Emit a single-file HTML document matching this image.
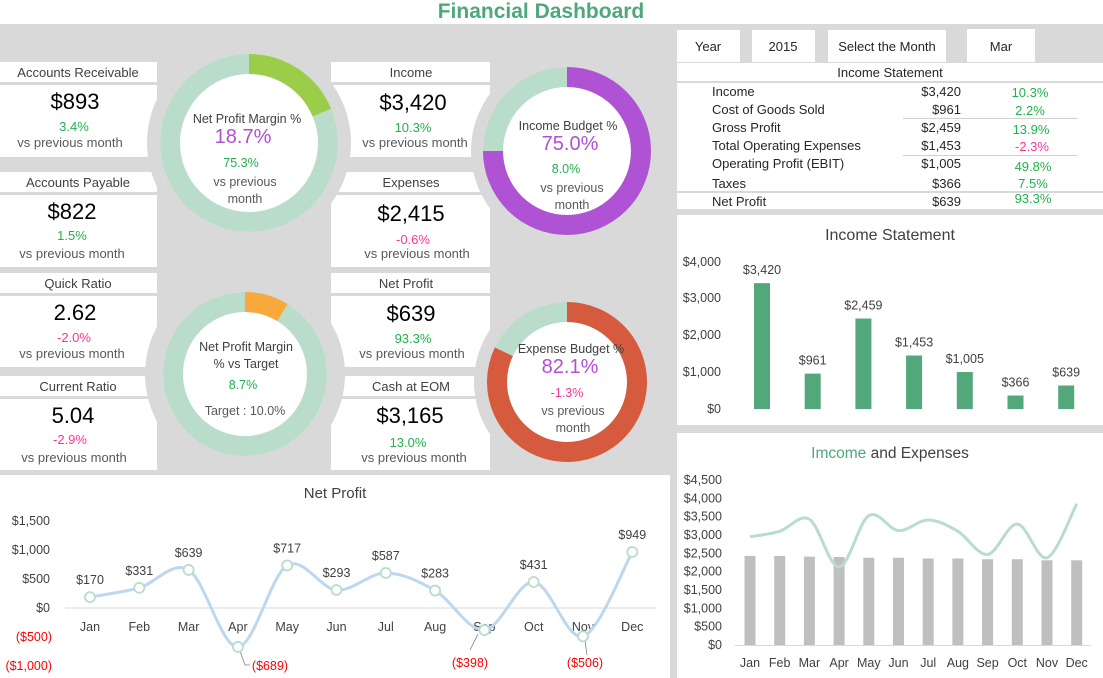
<!DOCTYPE html>
<html><head><meta charset="utf-8"><style>
html,body{margin:0;padding:0;background:#fff;}
svg{display:block;font-family:"Liberation Sans",sans-serif;}
</style></head><body>
<svg id="s" width="1103" height="678" viewBox="0 0 1103 678" xmlns="http://www.w3.org/2000/svg">
<rect x="0" y="0" width="1103" height="678" fill="#fff"/>
<text x="541" y="18" text-anchor="middle" font-size="21" font-weight="bold" fill="#4ea87c">Financial Dashboard</text>
<rect x="0" y="24" width="670" height="451" fill="#d9d9d9"/>
<rect x="670" y="24" width="433" height="654" fill="#d9d9d9"/>

<!-- left cards -->
<g fill="#fff">
<rect x="0" y="62" width="157" height="20"/><rect x="0" y="85" width="157" height="72"/>
<rect x="0" y="172" width="157" height="20"/><rect x="0" y="195" width="157" height="72"/>
<rect x="0" y="273" width="157" height="20"/><rect x="0" y="296" width="157" height="71"/>
<rect x="0" y="376" width="157" height="20"/><rect x="0" y="399" width="157" height="71"/>
<rect x="331" y="62" width="159" height="20"/><rect x="331" y="85" width="159" height="72"/>
<rect x="331" y="172" width="159" height="20"/><rect x="331" y="195" width="159" height="72"/>
<rect x="331" y="273" width="159" height="20"/><rect x="331" y="296" width="159" height="71"/>
<rect x="331" y="376" width="159" height="20"/><rect x="331" y="399" width="159" height="71"/>
</g>
<g fill="#d9d9d9">
<circle cx="249" cy="143" r="102"/><circle cx="245" cy="374" r="100"/>
<circle cx="567" cy="151" r="96"/><circle cx="567" cy="382" r="93"/>
</g>

<g text-anchor="middle" fill="#404040" font-size="13">
<text x="78" y="77">Accounts Receivable</text>
<text x="75" y="109" font-size="22" fill="#000">$893</text>
<text x="74" y="131" fill="#22b14c">3.4%</text>
<text x="70" y="147" fill="#595959">vs previous month</text>
<text x="78" y="187">Accounts Payable</text>
<text x="72" y="219" font-size="22" fill="#000">$822</text>
<text x="72" y="240" fill="#22b14c">1.5%</text>
<text x="72" y="258" fill="#595959">vs previous month</text>
<text x="78" y="288">Quick Ratio</text>
<text x="75" y="320" font-size="22" fill="#000">2.62</text>
<text x="74" y="342" fill="#ff3399">-2.0%</text>
<text x="72" y="358" fill="#595959">vs previous month</text>
<text x="78" y="391">Current Ratio</text>
<text x="73" y="423" font-size="22" fill="#000">5.04</text>
<text x="70" y="444" fill="#ff3399">-2.9%</text>
<text x="74" y="462" fill="#595959">vs previous month</text>

<text x="411" y="77">Income</text>
<text x="413" y="110" font-size="22" fill="#000">$3,420</text>
<text x="413" y="132" fill="#22b14c">10.3%</text>
<text x="415" y="147" fill="#595959">vs previous month</text>
<text x="411" y="187">Expenses</text>
<text x="411" y="221" font-size="22" fill="#000">$2,415</text>
<text x="413" y="244" fill="#ff3399">-0.6%</text>
<text x="417" y="258" fill="#595959">vs previous month</text>
<text x="406" y="288">Net Profit</text>
<text x="411" y="321" font-size="22" fill="#000">$639</text>
<text x="413" y="343" fill="#22b14c">93.3%</text>
<text x="412" y="358" fill="#595959">vs previous month</text>
<text x="411" y="391">Cash at EOM</text>
<text x="410" y="423" font-size="22" fill="#000">$3,165</text>
<text x="408" y="447" fill="#22b14c">13.0%</text>
<text x="414" y="462" fill="#595959">vs previous month</text>
</g>

<g id="donuts"></g>
<g text-anchor="middle" font-size="12.5" fill="#404040">
<text x="247" y="123">Net Profit Margin %</text>
<text x="243" y="143" font-size="20" fill="#b150d4">18.7%</text>
<text x="241" y="167" fill="#22b14c">75.3%</text>
<text x="245" y="186" fill="#595959">vs previous</text>
<text x="245" y="203" fill="#595959">month</text>
<text x="568" y="130">Income Budget %</text>
<text x="570" y="150" font-size="20" fill="#b150d4">75.0%</text>
<text x="566" y="173" fill="#22b14c">8.0%</text>
<text x="572" y="192" fill="#595959">vs previous</text>
<text x="572" y="209" fill="#595959">month</text>
<text x="246" y="351">Net Profit Margin</text>
<text x="246" y="368">% vs Target</text>
<text x="243" y="389" fill="#22b14c">8.7%</text>
<text x="245" y="415" fill="#595959">Target :  10.0%</text>
<text x="571" y="353">Expense Budget %</text>
<text x="570" y="373" font-size="20" fill="#b150d4">82.1%</text>
<text x="567" y="397" fill="#ff3399">-1.3%</text>
<text x="573" y="415" fill="#595959">vs previous</text>
<text x="573" y="432" fill="#595959">month</text>
</g>

<!-- right top -->
<g fill="#fff">
<rect x="677" y="30" width="63" height="32"/><rect x="752" y="30" width="63" height="32"/>
<rect x="828" y="30" width="118" height="32"/><rect x="967" y="29" width="68" height="33"/>
<rect x="677" y="63" width="426" height="146"/>
<rect x="677" y="215" width="426" height="210"/>
<rect x="677" y="433" width="426" height="245"/>
</g>
<g font-size="13" fill="#262626">
<text x="708" y="51" text-anchor="middle">Year</text>
<text x="783" y="51" text-anchor="middle">2015</text>
<text x="887" y="51" text-anchor="middle">Select the Month</text>
<text x="1001" y="51" text-anchor="middle">Mar</text>
<text x="890" y="77" text-anchor="middle">Income Statement</text>
</g>
<rect x="677" y="81" width="426" height="2" fill="#d9d9d9"/>
<rect x="677" y="191" width="426" height="2" fill="#d9d9d9"/>
<line x1="903" y1="118.5" x2="1078" y2="118.5" stroke="#d0d0d0"/>
<line x1="903" y1="155.5" x2="1078" y2="155.5" stroke="#d0d0d0"/>
<g font-size="13" fill="#262626">
<text x="712" y="96">Income</text><text x="712" y="114">Cost of Goods Sold</text><text x="712" y="132">Gross Profit</text>
<text x="712" y="150">Total Operating Expenses</text><text x="712" y="168">Operating Profit (EBIT)</text><text x="712" y="188">Taxes</text><text x="712" y="206">Net Profit</text>
</g>
<g font-size="13" fill="#262626" text-anchor="end">
<text x="961" y="96">$3,420</text><text x="961" y="114">$961</text><text x="961" y="132">$2,459</text>
<text x="961" y="150">$1,453</text><text x="961" y="168">$1,005</text><text x="961" y="188">$366</text><text x="961" y="206">$639</text>
</g>
<g font-size="13" fill="#22b14c" text-anchor="middle">
<text x="1030" y="97">10.3%</text><text x="1030" y="115">2.2%</text><text x="1031" y="134">13.9%</text>
<text x="1032" y="151" fill="#ff3399">-2.3%</text><text x="1033" y="171">49.8%</text><text x="1033" y="188">7.5%</text><text x="1033" y="203">93.3%</text>
</g>

<!-- income statement chart -->
<text x="890" y="240" text-anchor="middle" font-size="16" fill="#404040">Income Statement</text>
<g font-size="12.5" fill="#404040" text-anchor="end">
<text x="721" y="266">$4,000</text><text x="721" y="302">$3,000</text><text x="721" y="339">$2,000</text><text x="721" y="376">$1,000</text><text x="721" y="413">$0</text>
</g>
<g id="isbars"></g>

<!-- income & expenses -->
<text x="890" y="458" text-anchor="middle" font-size="15.5" fill="#404040"><tspan fill="#4ea87c">Imcome</tspan> and Expenses</text>
<g font-size="12.5" fill="#404040" text-anchor="end" id="ieax"></g>
<g id="iechart"></g>

<!-- net profit -->
<rect x="0" y="475" width="670" height="203" fill="#fff"/>
<text x="335" y="498" text-anchor="middle" font-size="15" fill="#404040">Net Profit</text>
<g font-size="12.5" text-anchor="end" fill="#404040">
<text x="50" y="525">$1,500</text><text x="50" y="554">$1,000</text><text x="50" y="583">$500</text><text x="50" y="612">$0</text>
<text x="52" y="641" fill="#ff0000">($500)</text><text x="52" y="670" fill="#ff0000">($1,000)</text>
</g>
<line x1="65" y1="608" x2="657" y2="608" stroke="#d9d9d9"/>
<g id="np"></g>
</svg>
<script>
var NS="http://www.w3.org/2000/svg";
function el(p,t,a,txt){var e=document.createElementNS(NS,t);for(var k in a)e.setAttribute(k,a[k]);if(txt!=null)e.textContent=txt;document.getElementById(p).appendChild(e);return e;}
function arc(cx,cy,r,a0,a1){var p=function(a){a=(a-90)*Math.PI/180;return [cx+r*Math.cos(a),cy+r*Math.sin(a)];};var s=p(a0),e=p(a1);return "M"+s[0]+" "+s[1]+" A"+r+" "+r+" 0 "+((a1-a0)>180?1:0)+" 1 "+e[0]+" "+e[1];}
function donut(cx,cy,R,frac,col){var w=20,r=R-w/2;
el("donuts","circle",{cx:cx,cy:cy,r:R,fill:"#fff"});
el("donuts","circle",{cx:cx,cy:cy,r:r,fill:"none",stroke:"#b9dccb","stroke-width":w});
el("donuts","path",{d:arc(cx,cy,r,0,frac*360),fill:"none",stroke:col,"stroke-width":w});}
donut(249,143,89,0.187,"#9bcd48");
donut(567,151,84,0.75,"#b052d4");
donut(245,374,82,0.087,"#f9a83b");
donut(567,382,80,0.821,"#d65a3e");
// income statement bars
var iv=[3420,961,2459,1453,1005,366,639],il=["$3,420","$961","$2,459","$1,453","$1,005","$366","$639"];
for(var i=0;i<7;i++){var cx=762+i*50.7,h=iv[i]*0.0368;
el("isbars","rect",{x:cx-8,y:409-h,width:16,height:h,fill:"#52a77b"});
el("isbars","text",{x:cx,y:409-h-9,"text-anchor":"middle","font-size":"12.5",fill:"#404040"},il[i]);}
function spline(P){var d="M"+P[0][0]+" "+P[0][1];for(var i=0;i<P.length-1;i++){var p0=P[Math.max(0,i-1)],p1=P[i],p2=P[i+1],p3=P[Math.min(P.length-1,i+2)];var t=6;
d+=" C"+(p1[0]+(p2[0]-p0[0])/t)+" "+(p1[1]+(p2[1]-p0[1])/t)+" "+(p2[0]-(p3[0]-p1[0])/t)+" "+(p2[1]-(p3[1]-p1[1])/t)+" "+p2[0]+" "+p2[1];}return d;}
var M=["Jan","Feb","Mar","Apr","May","Jun","Jul","Aug","Sep","Oct","Nov","Dec"];
// income & expenses
var z=645,k=165/4500;
var yl=["$4,500","$4,000","$3,500","$3,000","$2,500","$2,000","$1,500","$1,000","$500","$0"];
for(var i=0;i<10;i++)el("ieax","text",{x:722,y:z-(4500-i*500)*k+4},yl[i]);
el("iechart","line",{x1:735,y1:z+0.5,x2:1091,y2:z+0.5,stroke:"#d9d9d9"});
var ex=[2430,2430,2410,2400,2380,2380,2360,2360,2340,2340,2310,2310];
var inc=[2950,3100,3430,2130,3530,3120,3410,3100,2470,3300,2380,3850];
var pts=[];
for(var i=0;i<12;i++){var cx=750+i*29.7;el("iechart","rect",{x:cx-5.5,y:z-ex[i]*k,width:11,height:ex[i]*k,fill:"#bfbfbf"});
el("iechart","text",{x:cx,y:667,"text-anchor":"middle","font-size":"12.5",fill:"#404040"},M[i]);pts.push([cx,z-inc[i]*k]);}
el("iechart","path",{d:spline(pts),fill:"none",stroke:"#b9dccb","stroke-width":3});
// net profit
var nv=[170,331,639,-689,717,293,587,283,-398,431,-506,949],nl=["$170","$331","$639","($689)","$717","$293","$587","$283","($398)","$431","($506)","$949"];
var np=[];for(var i=0;i<12;i++){var cx=90+i*49.3;np.push([cx,607-nv[i]*0.058]);
el("np","text",{x:cx,y:631,"text-anchor":"middle","font-size":"12.5",fill:"#404040"},M[i]);}
el("np","path",{d:spline(np),fill:"none",stroke:"#bdd7ee","stroke-width":3});
el("np","path",{d:"M240 651 L245 665 L250 665 M478 634 L470 650 M585 641 L587 655",fill:"none",stroke:"#7f7f7f","stroke-width":0.8});
for(var i=0;i<12;i++){el("np","circle",{cx:np[i][0],cy:np[i][1],r:5,fill:"#fff",stroke:"#b9dccb","stroke-width":1.8});
if(nv[i]>=0)el("np","text",{x:np[i][0],y:np[i][1]-13,"text-anchor":"middle","font-size":"12.5",fill:"#404040"},nl[i]);}
el("np","text",{x:270,y:670,"text-anchor":"middle","font-size":"12.5",fill:"#ff0000"},"($689)");
el("np","text",{x:470,y:667,"text-anchor":"middle","font-size":"12.5",fill:"#ff0000"},"($398)");
el("np","text",{x:585,y:667,"text-anchor":"middle","font-size":"12.5",fill:"#ff0000"},"($506)");
</script>
</body></html>
